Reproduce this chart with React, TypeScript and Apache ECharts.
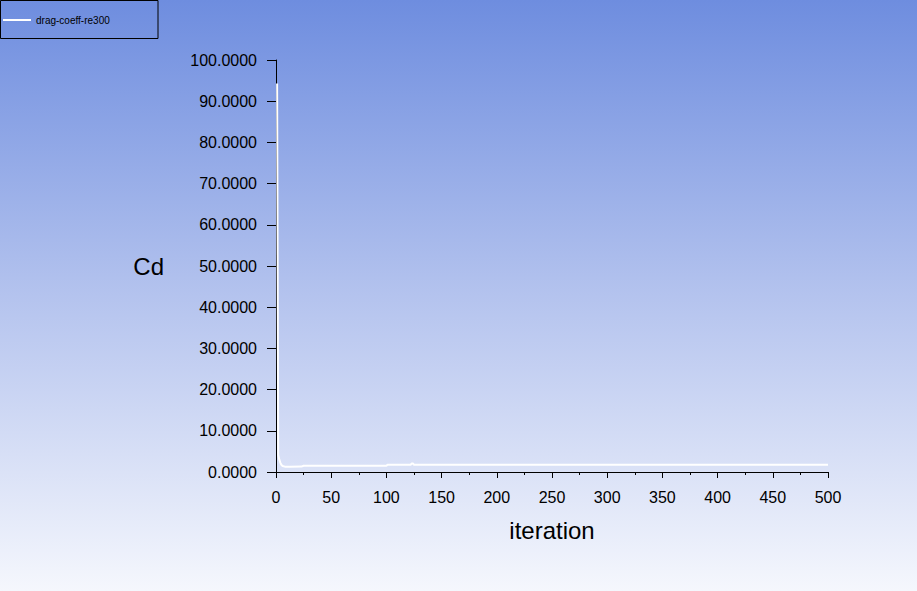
import React, { useEffect, useRef } from "react";
import * as echarts from "echarts";

const seriesName = "drag-coeff-re300";
const iterations = [1, 2, 3, 4, 5, 6, 8, 13, 23, 25, 100, 101, 122, 123, 124, 125, 500];
const cdValues = [94.3, 4.1, 3.0, 2.2, 1.7, 1.45, 1.3, 1.3, 1.32, 1.53, 1.53, 1.77, 1.77, 2.05, 2.05, 1.77, 1.77];
const xName = "iteration";
const yName = "Cd";

const FONT = "'Liberation Sans', Arial, sans-serif";

export default function App() {
  const ref = useRef<HTMLDivElement>(null);
  useEffect(() => {
    document.body.style.margin = "0";
    if (!ref.current) return;
    const chart = echarts.init(ref.current, undefined, { renderer: "svg" });
    const data = iterations.map((it, i) => [it, cdValues[i]]);
    chart.setOption({
      animation: false,
      backgroundColor: "transparent",
      textStyle: { fontFamily: FONT },
      grid: { left: 276, right: 89, top: 60, bottom: 119, containLabel: false },
      xAxis: {
        type: "value",
        min: 0,
        max: 500,
        interval: 50,
        name: xName,
        nameLocation: "middle",
        nameGap: 46,
        nameTextStyle: { fontSize: 24, color: "#000", fontFamily: FONT },
        axisLine: { show: true, onZero: false, lineStyle: { color: "#000", width: 1 } },
        axisTick: { show: true, length: 6, lineStyle: { color: "#000", width: 1 } },
        minorTick: { show: true, splitNumber: 2, length: 3, lineStyle: { color: "#000", width: 1 } },
        splitLine: { show: false },
        axisLabel: { margin: 17, fontSize: 16, color: "#000", fontFamily: FONT },
      },
      yAxis: {
        type: "value",
        min: 0,
        max: 100,
        interval: 10,
        name: yName,
        nameLocation: "middle",
        nameRotate: 0,
        nameGap: 112,
        nameTextStyle: { fontSize: 24, color: "#000", fontFamily: FONT },
        axisLine: { show: true, onZero: false, lineStyle: { color: "#000", width: 1 } },
        axisTick: { show: true, length: 9, lineStyle: { color: "#000", width: 1 } },
        splitLine: { show: false },
        axisLabel: {
          margin: 19,
          fontSize: 16,
          color: "#000",
          fontFamily: FONT,
          formatter: (v: number) => v.toFixed(4),
        },
      },
      series: [
        {
          name: seriesName,
          type: "line",
          data,
          showSymbol: false,
          symbol: "none",
          lineStyle: { color: "#ffffff", width: 2 },
        },
      ],
      graphic: [
        {
          type: "rect",
          shape: { x: 0.5, y: 0.5, width: 157.5, height: 38 },
          style: { fill: "transparent", stroke: "#000", lineWidth: 1 },
        },
        {
          type: "line",
          shape: { x1: 3, y1: 20, x2: 31, y2: 20 },
          style: { stroke: "#fff", lineWidth: 2 },
        },
        {
          type: "text",
          x: 36,
          y: 20.5,
          style: {
            text: seriesName,
            fill: "#000",
            fontSize: 10,
            fontFamily: FONT,
            verticalAlign: "middle",
            align: "left",
          },
        },
      ],
    });
    return () => chart.dispose();
  }, []);
  return (
    <div
      ref={ref}
      style={{
        position: "absolute",
        left: 0,
        top: 0,
        width: 917,
        height: 591,
        background: "linear-gradient(to bottom, #6e8ddf 0%, #b4c3ee 50%, #f5f7fd 100%)",
      }}
    />
  );
}
